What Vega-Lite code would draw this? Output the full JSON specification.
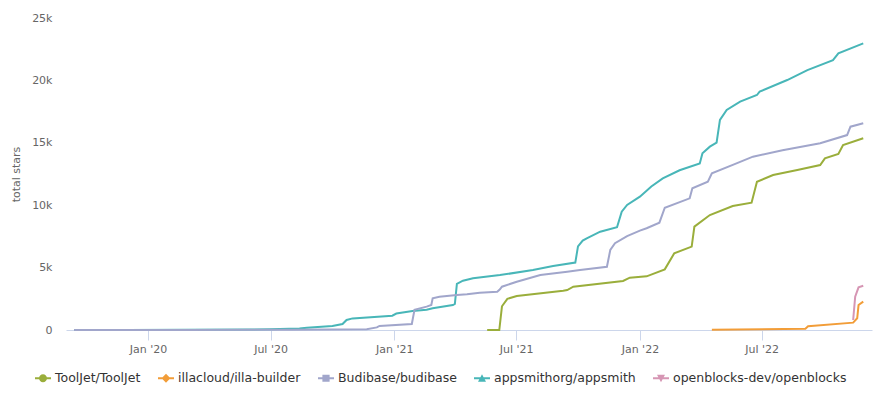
{
  "$schema": "https://vega.github.io/schema/vega-lite/v6.json",
  "width": 806,
  "height": 312,
  "autosize": {"type": "none"},
  "padding": {"left": 66, "top": 18, "right": 6, "bottom": 68},
  "background": "#ffffff",
  "config": {
    "view": {"stroke": null},
    "font": "DejaVu Sans"
  },
  "datasets": {
    "stars": [
      {"repo": "appsmithorg/appsmith", "date": "2019-09-13", "stars": 0},
      {"repo": "appsmithorg/appsmith", "date": "2019-12-01", "stars": 10},
      {"repo": "appsmithorg/appsmith", "date": "2020-03-01", "stars": 20},
      {"repo": "appsmithorg/appsmith", "date": "2020-06-01", "stars": 40},
      {"repo": "appsmithorg/appsmith", "date": "2020-06-30", "stars": 60},
      {"repo": "appsmithorg/appsmith", "date": "2020-08-13", "stars": 130},
      {"repo": "appsmithorg/appsmith", "date": "2020-08-24", "stars": 180},
      {"repo": "appsmithorg/appsmith", "date": "2020-10-01", "stars": 320},
      {"repo": "appsmithorg/appsmith", "date": "2020-10-16", "stars": 480},
      {"repo": "appsmithorg/appsmith", "date": "2020-10-22", "stars": 800},
      {"repo": "appsmithorg/appsmith", "date": "2020-10-31", "stars": 930},
      {"repo": "appsmithorg/appsmith", "date": "2020-12-29", "stars": 1150},
      {"repo": "appsmithorg/appsmith", "date": "2021-01-04", "stars": 1320},
      {"repo": "appsmithorg/appsmith", "date": "2021-01-28", "stars": 1530},
      {"repo": "appsmithorg/appsmith", "date": "2021-02-18", "stars": 1620},
      {"repo": "appsmithorg/appsmith", "date": "2021-02-27", "stars": 1740},
      {"repo": "appsmithorg/appsmith", "date": "2021-03-29", "stars": 2000},
      {"repo": "appsmithorg/appsmith", "date": "2021-04-01", "stars": 2100},
      {"repo": "appsmithorg/appsmith", "date": "2021-04-04", "stars": 3700},
      {"repo": "appsmithorg/appsmith", "date": "2021-04-13", "stars": 3950},
      {"repo": "appsmithorg/appsmith", "date": "2021-04-28", "stars": 4140},
      {"repo": "appsmithorg/appsmith", "date": "2021-06-07", "stars": 4400},
      {"repo": "appsmithorg/appsmith", "date": "2021-07-26", "stars": 4800},
      {"repo": "appsmithorg/appsmith", "date": "2021-08-25", "stars": 5130},
      {"repo": "appsmithorg/appsmith", "date": "2021-09-27", "stars": 5400},
      {"repo": "appsmithorg/appsmith", "date": "2021-10-01", "stars": 6700},
      {"repo": "appsmithorg/appsmith", "date": "2021-10-08", "stars": 7160},
      {"repo": "appsmithorg/appsmith", "date": "2021-10-14", "stars": 7350},
      {"repo": "appsmithorg/appsmith", "date": "2021-11-03", "stars": 7880},
      {"repo": "appsmithorg/appsmith", "date": "2021-11-28", "stars": 8230},
      {"repo": "appsmithorg/appsmith", "date": "2021-12-05", "stars": 9480},
      {"repo": "appsmithorg/appsmith", "date": "2021-12-13", "stars": 10020},
      {"repo": "appsmithorg/appsmith", "date": "2022-01-01", "stars": 10680},
      {"repo": "appsmithorg/appsmith", "date": "2022-01-18", "stars": 11500},
      {"repo": "appsmithorg/appsmith", "date": "2022-02-04", "stars": 12150},
      {"repo": "appsmithorg/appsmith", "date": "2022-03-01", "stars": 12800},
      {"repo": "appsmithorg/appsmith", "date": "2022-03-31", "stars": 13350},
      {"repo": "appsmithorg/appsmith", "date": "2022-04-04", "stars": 14160},
      {"repo": "appsmithorg/appsmith", "date": "2022-04-15", "stars": 14690},
      {"repo": "appsmithorg/appsmith", "date": "2022-04-25", "stars": 15010},
      {"repo": "appsmithorg/appsmith", "date": "2022-04-30", "stars": 16830},
      {"repo": "appsmithorg/appsmith", "date": "2022-05-10", "stars": 17630},
      {"repo": "appsmithorg/appsmith", "date": "2022-05-30", "stars": 18300},
      {"repo": "appsmithorg/appsmith", "date": "2022-06-24", "stars": 18830},
      {"repo": "appsmithorg/appsmith", "date": "2022-06-28", "stars": 19100},
      {"repo": "appsmithorg/appsmith", "date": "2022-08-08", "stars": 20030},
      {"repo": "appsmithorg/appsmith", "date": "2022-09-07", "stars": 20830},
      {"repo": "appsmithorg/appsmith", "date": "2022-10-15", "stars": 21630},
      {"repo": "appsmithorg/appsmith", "date": "2022-10-23", "stars": 22170},
      {"repo": "appsmithorg/appsmith", "date": "2022-11-29", "stars": 22970},

      {"repo": "Budibase/budibase", "date": "2019-09-13", "stars": 0},
      {"repo": "Budibase/budibase", "date": "2020-03-01", "stars": 10},
      {"repo": "Budibase/budibase", "date": "2020-08-01", "stars": 30},
      {"repo": "Budibase/budibase", "date": "2020-11-21", "stars": 60},
      {"repo": "Budibase/budibase", "date": "2020-12-06", "stars": 210},
      {"repo": "Budibase/budibase", "date": "2020-12-10", "stars": 330},
      {"repo": "Budibase/budibase", "date": "2021-01-27", "stars": 480},
      {"repo": "Budibase/budibase", "date": "2021-01-31", "stars": 1620},
      {"repo": "Budibase/budibase", "date": "2021-02-18", "stars": 1870},
      {"repo": "Budibase/budibase", "date": "2021-02-25", "stars": 2000},
      {"repo": "Budibase/budibase", "date": "2021-02-27", "stars": 2540},
      {"repo": "Budibase/budibase", "date": "2021-03-09", "stars": 2670},
      {"repo": "Budibase/budibase", "date": "2021-04-04", "stars": 2800},
      {"repo": "Budibase/budibase", "date": "2021-04-19", "stars": 2860},
      {"repo": "Budibase/budibase", "date": "2021-05-08", "stars": 2990},
      {"repo": "Budibase/budibase", "date": "2021-06-03", "stars": 3070},
      {"repo": "Budibase/budibase", "date": "2021-06-07", "stars": 3260},
      {"repo": "Budibase/budibase", "date": "2021-06-10", "stars": 3470},
      {"repo": "Budibase/budibase", "date": "2021-07-02", "stars": 3870},
      {"repo": "Budibase/budibase", "date": "2021-08-06", "stars": 4410},
      {"repo": "Budibase/budibase", "date": "2021-09-15", "stars": 4670},
      {"repo": "Budibase/budibase", "date": "2021-10-04", "stars": 4810},
      {"repo": "Budibase/budibase", "date": "2021-11-13", "stars": 5070},
      {"repo": "Budibase/budibase", "date": "2021-11-18", "stars": 6410},
      {"repo": "Budibase/budibase", "date": "2021-11-25", "stars": 6950},
      {"repo": "Budibase/budibase", "date": "2021-12-13", "stars": 7530},
      {"repo": "Budibase/budibase", "date": "2022-01-01", "stars": 7960},
      {"repo": "Budibase/budibase", "date": "2022-01-11", "stars": 8150},
      {"repo": "Budibase/budibase", "date": "2022-01-30", "stars": 8600},
      {"repo": "Budibase/budibase", "date": "2022-02-07", "stars": 9800},
      {"repo": "Budibase/budibase", "date": "2022-03-16", "stars": 10550},
      {"repo": "Budibase/budibase", "date": "2022-03-20", "stars": 11350},
      {"repo": "Budibase/budibase", "date": "2022-04-12", "stars": 11880},
      {"repo": "Budibase/budibase", "date": "2022-04-18", "stars": 12550},
      {"repo": "Budibase/budibase", "date": "2022-05-20", "stars": 13250},
      {"repo": "Budibase/budibase", "date": "2022-06-18", "stars": 13890},
      {"repo": "Budibase/budibase", "date": "2022-08-01", "stars": 14400},
      {"repo": "Budibase/budibase", "date": "2022-09-26", "stars": 14960},
      {"repo": "Budibase/budibase", "date": "2022-11-05", "stars": 15620},
      {"repo": "Budibase/budibase", "date": "2022-11-10", "stars": 16290},
      {"repo": "Budibase/budibase", "date": "2022-11-29", "stars": 16560},

      {"repo": "ToolJet/ToolJet", "date": "2021-05-19", "stars": 0},
      {"repo": "ToolJet/ToolJet", "date": "2021-06-06", "stars": 0},
      {"repo": "ToolJet/ToolJet", "date": "2021-06-10", "stars": 1900},
      {"repo": "ToolJet/ToolJet", "date": "2021-06-18", "stars": 2500},
      {"repo": "ToolJet/ToolJet", "date": "2021-07-02", "stars": 2720},
      {"repo": "ToolJet/ToolJet", "date": "2021-09-09", "stars": 3150},
      {"repo": "ToolJet/ToolJet", "date": "2021-09-15", "stars": 3200},
      {"repo": "ToolJet/ToolJet", "date": "2021-09-24", "stars": 3470},
      {"repo": "ToolJet/ToolJet", "date": "2021-12-07", "stars": 3930},
      {"repo": "ToolJet/ToolJet", "date": "2021-12-17", "stars": 4190},
      {"repo": "ToolJet/ToolJet", "date": "2022-01-11", "stars": 4300},
      {"repo": "ToolJet/ToolJet", "date": "2022-02-07", "stars": 4860},
      {"repo": "ToolJet/ToolJet", "date": "2022-02-21", "stars": 6140},
      {"repo": "ToolJet/ToolJet", "date": "2022-03-19", "stars": 6680},
      {"repo": "ToolJet/ToolJet", "date": "2022-03-23", "stars": 8280},
      {"repo": "ToolJet/ToolJet", "date": "2022-04-15", "stars": 9210},
      {"repo": "ToolJet/ToolJet", "date": "2022-05-19", "stars": 9940},
      {"repo": "ToolJet/ToolJet", "date": "2022-06-16", "stars": 10200},
      {"repo": "ToolJet/ToolJet", "date": "2022-06-24", "stars": 11880},
      {"repo": "ToolJet/ToolJet", "date": "2022-07-18", "stars": 12420},
      {"repo": "ToolJet/ToolJet", "date": "2022-08-23", "stars": 12820},
      {"repo": "ToolJet/ToolJet", "date": "2022-09-26", "stars": 13220},
      {"repo": "ToolJet/ToolJet", "date": "2022-10-03", "stars": 13750},
      {"repo": "ToolJet/ToolJet", "date": "2022-10-23", "stars": 14100},
      {"repo": "ToolJet/ToolJet", "date": "2022-10-30", "stars": 14820},
      {"repo": "ToolJet/ToolJet", "date": "2022-11-29", "stars": 15360},

      {"repo": "illacloud/illa-builder", "date": "2022-04-18", "stars": 30},
      {"repo": "illacloud/illa-builder", "date": "2022-09-04", "stars": 100},
      {"repo": "illacloud/illa-builder", "date": "2022-09-08", "stars": 300},
      {"repo": "illacloud/illa-builder", "date": "2022-11-14", "stars": 590},
      {"repo": "illacloud/illa-builder", "date": "2022-11-20", "stars": 940},
      {"repo": "illacloud/illa-builder", "date": "2022-11-22", "stars": 2000},
      {"repo": "illacloud/illa-builder", "date": "2022-11-29", "stars": 2270},

      {"repo": "openblocks-dev/openblocks", "date": "2022-11-14", "stars": 800},
      {"repo": "openblocks-dev/openblocks", "date": "2022-11-17", "stars": 2670},
      {"repo": "openblocks-dev/openblocks", "date": "2022-11-22", "stars": 3420},
      {"repo": "openblocks-dev/openblocks", "date": "2022-11-29", "stars": 3550}
    ]
  },
  "data": {"name": "stars"},
  "encoding": {
    "x": {
      "field": "date",
      "type": "temporal",
      "scale": {"domain": [{"year": 2019, "month": 9, "date": 1}, {"year": 2022, "month": 12, "date": 12}]},
      "axis": {
        "title": null,
        "values": [
          {"year": 2020, "month": 1, "date": 1},
          {"year": 2020, "month": 7, "date": 1},
          {"year": 2021, "month": 1, "date": 1},
          {"year": 2021, "month": 7, "date": 1},
          {"year": 2022, "month": 1, "date": 1},
          {"year": 2022, "month": 7, "date": 1}
        ],
        "format": "%b '%y",
        "grid": false,
        "domainColor": "#ccd6eb",
        "tickColor": "#ccd6eb",
        "tickSize": 10,
        "labelColor": "#666666",
        "labelFont": "DejaVu Sans",
        "labelFontSize": 11,
        "labelPadding": 3
      }
    },
    "y": {
      "field": "stars",
      "type": "quantitative",
      "scale": {"domain": [0, 25000], "nice": false},
      "axis": {
        "title": "total stars",
        "values": [0, 5000, 10000, 15000, 20000, 25000],
        "format": "~s",
        "labelExpr": "datum.value === 0 ? '0' : datum.label",
        "grid": false,
        "domain": false,
        "ticks": false,
        "labelColor": "#666666",
        "labelFont": "DejaVu Sans",
        "labelFontSize": 11,
        "labelPadding": 14,
        "titleColor": "#666666",
        "titleFont": "DejaVu Sans",
        "titleFontSize": 11,
        "titleFontWeight": "normal",
        "titlePadding": 10
      }
    },
    "color": {
      "field": "repo",
      "type": "nominal",
      "scale": {
        "domain": ["ToolJet/ToolJet", "illacloud/illa-builder", "Budibase/budibase", "appsmithorg/appsmith", "openblocks-dev/openblocks"],
        "range": ["#9aae3b", "#f29d38", "#a1a6cb", "#48b6b8", "#d696b4"]
      },
      "legend": {
        "title": null,
        "orient": "none",
        "direction": "horizontal",
        "columns": 5,
        "legendX": -31,
        "legendY": 352,
        "labelFont": "DejaVu Sans",
        "labelFontSize": 12.5,
        "labelColor": "#333333",
        "labelOffset": 4,
        "labelLimit": 400,
        "columnPadding": 17,
        "symbolSize": 256,
        "symbolOpacity": 1,
        "symbolStrokeWidth": 0
      }
    }
  },
  "layer": [
    {
      "mark": {"type": "line", "strokeWidth": 2, "interpolate": "linear"},
      "encoding": {
        "detail": {"field": "repo"}
      }
    },
    {
      "transform": [{"filter": "false"}],
      "mark": {"type": "point", "filled": true, "opacity": 1},
      "encoding": {
        "shape": {
          "field": "repo",
          "type": "nominal",
          "scale": {
            "domain": ["ToolJet/ToolJet", "illacloud/illa-builder", "Budibase/budibase", "appsmithorg/appsmith", "openblocks-dev/openblocks"],
            "range": [
              "M-1,-0.125H1V0.125H-1Z M-0.5,0A0.5,0.5 0 1,1 0.5,0A0.5,0.5 0 1,1 -0.5,0Z",
              "M-1,-0.125H1V0.125H-1Z M0,-0.55L0.55,0L0,0.55L-0.55,0Z",
              "M-1,-0.125H1V0.125H-1Z M-0.45,-0.45H0.45V0.45H-0.45Z",
              "M-1,-0.125H1V0.125H-1Z M0,-0.5L0.5,0.45H-0.5Z",
              "M-1,-0.125H1V0.125H-1Z M0,0.5L-0.5,-0.45H0.5Z"
            ]
          },
          "legend": {
            "title": null,
            "orient": "none",
            "direction": "horizontal",
            "columns": 5,
            "legendX": -31,
            "legendY": 352,
            "labelFont": "DejaVu Sans",
            "labelFontSize": 12.5,
            "labelColor": "#333333",
            "labelOffset": 4,
            "labelLimit": 400,
            "columnPadding": 17,
            "symbolSize": 256,
            "symbolOpacity": 1,
            "symbolStrokeWidth": 0
          }
        }
      }
    }
  ]
}
